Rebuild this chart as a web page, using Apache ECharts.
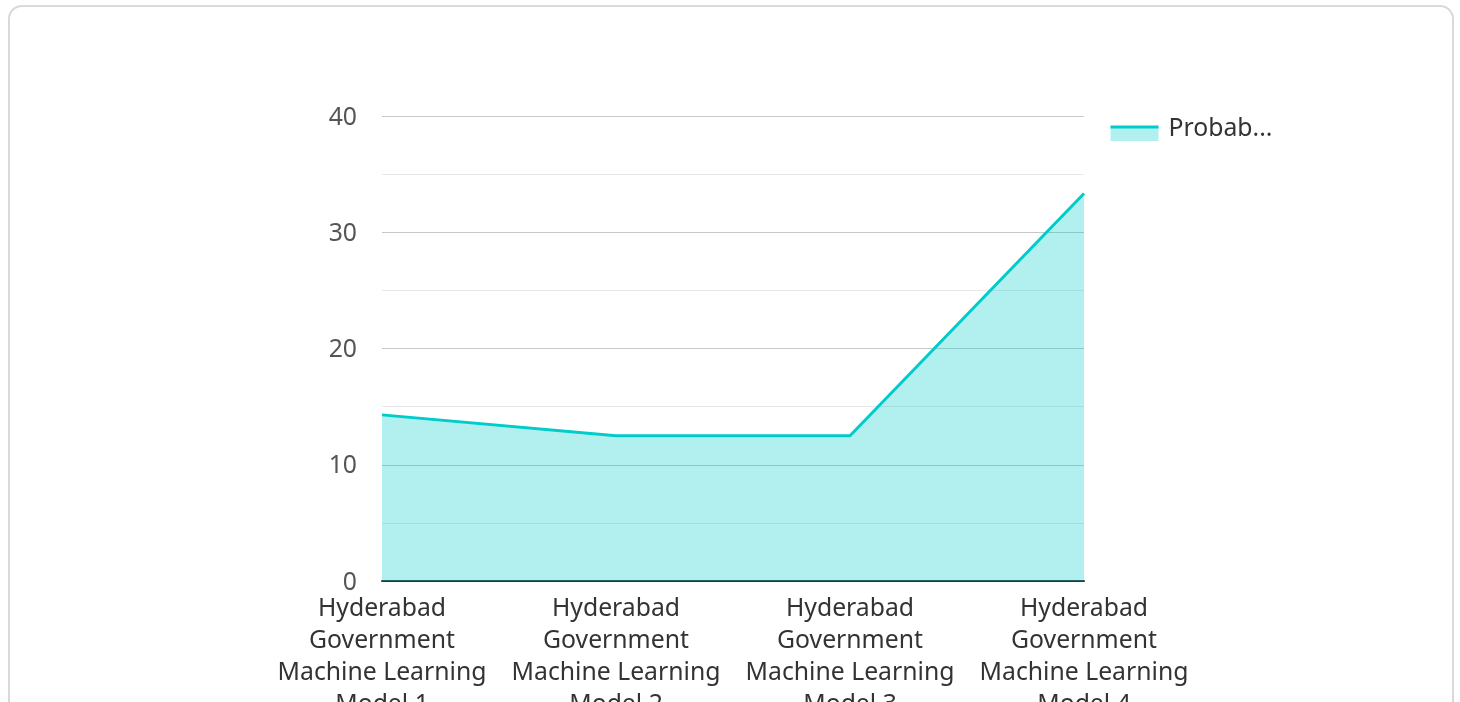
<!DOCTYPE html>
<html>
<head>
<meta charset="utf-8">
<script src="https://cdn.jsdelivr.net/npm/echarts@6/dist/echarts.min.js"></script>
<style>
html,body{margin:0;padding:0;background:#fff;width:1460px;height:702px;overflow:hidden;}
#card{position:absolute;left:8px;top:5px;width:1446px;height:720px;border:2px solid #d9d9d9;border-radius:14px;box-sizing:border-box;}
#chart{position:absolute;left:0;top:0;width:1460px;height:702px;}
</style>
</head>
<body>
<div id="card"></div>
<div id="chart"></div>
<script>
const categories = [
  "Hyderabad\nGovernment\nMachine Learning\nModel 1",
  "Hyderabad\nGovernment\nMachine Learning\nModel 2",
  "Hyderabad\nGovernment\nMachine Learning\nModel 3",
  "Hyderabad\nGovernment\nMachine Learning\nModel 4"
];
const seriesName = "Probability";
const values = [14.29, 12.5, 12.5, 33.33];
const yMin = 0, yMax = 40, yInterval = 10;

const FS = 24.75;
const chart = echarts.init(document.getElementById('chart'));
chart.setOption({
  animation: false,
  textStyle: { fontFamily: 'Noto Sans' },
  grid: { left: 382, right: 376, top: 116, bottom: 121, outerBoundsMode: 'none', containLabel: false },
  legend: {
    left: 1104, top: 111.5, orient: 'vertical',
    icon: 'rect', itemWidth: 48, itemHeight: 14,
    itemStyle: { color: 'rgba(0,204,204,0.3)', borderColor: '#00cccc', borderWidth: 3, borderType: [48, 1000], borderDashOffset: 0 },
    formatter: '{a|{name}}',
    textStyle: {
      fontSize: FS, color: '#333', fontFamily: 'Noto Sans', width: 111, overflow: 'truncate',
      rich: { a: { fontSize: FS, color: '#333', fontFamily: 'Noto Sans', padding: [0, 0, 10, 5] } }
    },
    data: [{ name: seriesName }]
  },
  xAxis: {
    type: 'category', data: categories, boundaryGap: false,
    axisLine: { show: true, lineStyle: { color: '#333', width: 2 } },
    axisTick: { show: false },
    axisLabel: { fontSize: FS, color: '#333', lineHeight: 32, margin: 12, interval: 0, fontFamily: 'Noto Sans' },
    splitLine: { show: false }
  },
  yAxis: {
    type: 'value', min: yMin, max: yMax, interval: yInterval,
    axisLine: { show: false }, axisTick: { show: false },
    axisLabel: {
      margin: 25, formatter: '{a|{value}}',
      rich: { a: { fontSize: FS, color: '#555', fontFamily: 'Noto Sans', padding: [3, 0, 0, 0] } }
    },
    splitLine: { show: true, lineStyle: { color: '#c8c8c8', width: 1 } },
    minorTick: { show: false, splitNumber: 2 },
    minorSplitLine: { show: true, lineStyle: { color: '#e8e8e8', width: 1 } }
  },
  series: [{
    name: seriesName, type: 'line', data: values,
    symbol: 'none', showSymbol: false,
    lineStyle: { color: '#00cccc', width: 3 },
    itemStyle: { color: '#00cccc' },
    areaStyle: { color: '#00cccc', opacity: 0.3 }
  }]
});
</script>
</body>
</html>
